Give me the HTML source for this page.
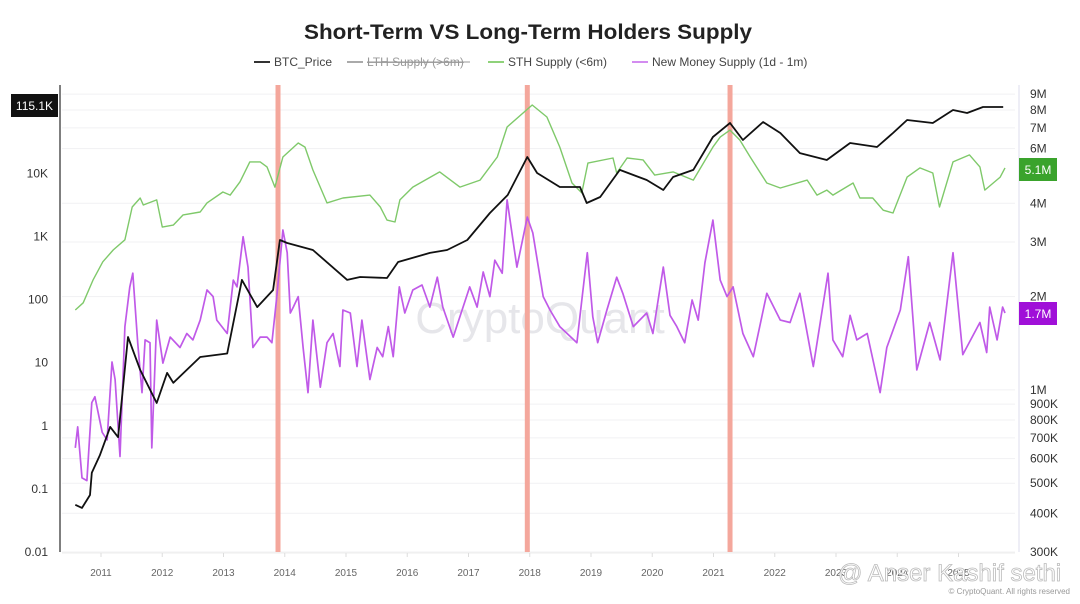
<!DOCTYPE html>
<html><head><meta charset="utf-8">
<style>
html,body{margin:0;padding:0;background:#fff;}
body{width:1080px;height:599px;overflow:hidden;font-family:"Liberation Sans",sans-serif;}
svg text{font-family:"Liberation Sans",sans-serif;}
</style></head>
<body>
<svg id="chart" width="1080" height="599" viewBox="0 0 1080 599" xmlns="http://www.w3.org/2000/svg">
  <text x="528" y="39" text-anchor="middle" font-size="21" font-weight="bold" fill="#222" textLength="448" lengthAdjust="spacingAndGlyphs">Short-Term VS Long-Term Holders Supply</text>
  <g id="legend" font-size="12" fill="#444">
    <g><line x1="254" y1="62" x2="270" y2="62" stroke="#333" stroke-width="2"/><text x="274" y="66">BTC_Price</text></g>
    <g><line x1="347" y1="62" x2="363" y2="62" stroke="#aaa" stroke-width="2"/><text x="367" y="66" fill="#999" text-decoration="line-through">LTH Supply (&gt;6m)</text><line x1="367" y1="62" x2="470" y2="62" stroke="#999" stroke-width="1"/></g>
    <g><line x1="488" y1="62" x2="504" y2="62" stroke="#8fd27a" stroke-width="2"/><text x="508" y="66">STH Supply (&lt;6m)</text></g>
    <g><line x1="632" y1="62" x2="648" y2="62" stroke="#d38cf0" stroke-width="2"/><text x="652" y="66">New Money Supply (1d - 1m)</text></g>
  </g>
  <g id="grid"></g>
  <text x="540" y="333" text-anchor="middle" font-size="44" fill="#e6e6ea">CryptoQuant</text>
  <g id="bands"></g>
  <g id="series"></g>
  <line x1="60" y1="85" x2="60" y2="552" stroke="#555" stroke-width="1.5"/>
  <line x1="1019" y1="85" x2="1019" y2="552" stroke="#dde" stroke-width="1"/>
  <line x1="62" y1="553" x2="1015" y2="553" stroke="#eee" stroke-width="1"/>
  <g id="yleft" font-size="12" fill="#333" text-anchor="end"></g>
  <g id="yright" font-size="12" fill="#333"></g>
  <g id="xaxis" font-size="10" fill="#666" text-anchor="middle"></g>
  <g><rect x="11" y="94" width="47" height="23" fill="#111"/><text x="34.5" y="110" text-anchor="middle" font-size="12" fill="#fff">115.1K</text></g>
  <g><rect x="1019" y="158" width="38" height="23" fill="#3aa32c"/><text x="1038" y="174" text-anchor="middle" font-size="12" fill="#fff">5.1M</text></g>
  <g><rect x="1019" y="302" width="38" height="23" fill="#a010d8"/><text x="1038" y="318" text-anchor="middle" font-size="12" fill="#fff">1.7M</text></g>
  <text x="838" y="581" font-size="24" fill="#fff" stroke="#bbb" stroke-width="0.8">@ Anser Kashif sethi</text>
  <text x="1070" y="594" text-anchor="end" font-size="8" fill="#999">© CryptoQuant. All rights reserved</text>
</svg>
<script>
const leftTicks = [0.01, 0.1, 1, 10, 100, 1000, 10000];
const leftTickLabels = ["0.01", "0.1", "1", "10", "100", "1K", "10K"];
const rightTicks = [0.3, 0.4, 0.5, 0.6, 0.7, 0.8, 0.9, 1, 2, 3, 4, 6, 7, 8, 9];
const rightTickLabels = ["300K", "400K", "500K", "600K", "700K", "800K", "900K", "1M", "2M", "3M", "4M", "6M", "7M", "8M", "9M"];
const xYears = [2011, 2012, 2013, 2014, 2015, 2016, 2017, 2018, 2019, 2020, 2021, 2022, 2023, 2024, 2025];
const bandDates = [2013.89, 2017.96, 2021.27];

const btcDates = [2010.58,2010.69,2010.82,2010.85,2010.98,2011.15,2011.28,2011.44,2011.64,2011.91,2012.08,2012.18,2012.62,2013.06,2013.30,2013.55,2013.81,2013.92,2014.04,2014.46,2015.02,2015.23,2015.67,2015.85,2016.37,2016.65,2016.98,2017.35,2017.64,2017.96,2018.12,2018.49,2018.82,2018.93,2019.15,2019.47,2019.91,2020.18,2020.34,2020.67,2020.99,2021.27,2021.48,2021.81,2022.09,2022.41,2022.85,2023.23,2023.67,2023.93,2024.16,2024.58,2024.91,2025.14,2025.40,2025.73];
const btcPrice = [0.056,0.05,0.08,0.18,0.34,0.96,0.66,25.5,7.7,2.3,6.9,4.8,12.3,14,205,76,142,880,790,610,205,228,220,395,550,610,880,2360,4550,18200,10140,6080,6080,3400,4230,11350,7860,5450,8770,11350,37800,63000,33800,65300,43600,21000,16300,30300,26200,43600,70200,63000,101000,90600,112700,112700];

const sthDates = [2010.58,2010.71,2010.87,2011.03,2011.20,2011.39,2011.51,2011.64,2011.69,2011.91,2012.00,2012.18,2012.34,2012.62,2012.73,2012.99,2013.11,2013.27,2013.43,2013.60,2013.71,2013.84,2013.97,2014.22,2014.33,2014.46,2014.69,2014.95,2015.39,2015.56,2015.67,2015.80,2015.88,2016.09,2016.53,2016.86,2017.19,2017.47,2017.63,2018.04,2018.28,2018.49,2018.69,2018.85,2018.95,2019.36,2019.42,2019.59,2019.85,2020.04,2020.34,2020.67,2020.99,2021.11,2021.27,2021.43,2021.60,2021.87,2022.09,2022.53,2022.69,2022.85,2022.95,2023.28,2023.39,2023.60,2023.77,2023.93,2024.16,2024.37,2024.58,2024.69,2024.91,2025.18,2025.35,2025.43,2025.68,2025.76];
const sthSupply = [1.81,1.91,2.26,2.59,2.83,3.05,3.89,4.16,3.95,4.10,3.35,3.40,3.67,3.75,4.01,4.35,4.25,4.69,5.44,5.44,5.24,4.51,5.64,6.26,6.07,5.12,4.01,4.16,4.25,3.89,3.53,3.48,4.10,4.51,5.05,4.51,4.75,5.64,7.05,8.30,7.59,6.07,4.65,4.32,5.39,5.60,5.01,5.60,5.52,4.93,5.05,4.75,6.07,6.54,6.89,6.40,5.64,4.65,4.48,4.75,4.25,4.41,4.25,4.65,4.16,4.16,3.80,3.72,4.86,5.20,5.01,3.89,5.44,5.73,5.24,4.41,4.86,5.20];

const nmDates = [2010.58,2010.62,2010.69,2010.77,2010.85,2010.90,2011.02,2011.10,2011.18,2011.23,2011.31,2011.39,2011.47,2011.52,2011.60,2011.67,2011.72,2011.80,2011.83,2011.91,2012.01,2012.13,2012.29,2012.40,2012.50,2012.62,2012.73,2012.83,2012.89,2013.06,2013.16,2013.22,2013.32,2013.40,2013.48,2013.60,2013.71,2013.79,2013.87,2013.97,2014.04,2014.09,2014.14,2014.22,2014.30,2014.38,2014.46,2014.58,2014.69,2014.79,2014.90,2014.95,2015.07,2015.18,2015.26,2015.39,2015.51,2015.60,2015.69,2015.77,2015.87,2015.96,2016.09,2016.24,2016.37,2016.49,2016.58,2016.75,2017.02,2017.14,2017.24,2017.35,2017.43,2017.55,2017.63,2017.79,2017.96,2018.05,2018.22,2018.33,2018.49,2018.77,2018.94,2019.03,2019.11,2019.26,2019.42,2019.52,2019.69,2019.91,2020.01,2020.18,2020.29,2020.40,2020.53,2020.65,2020.75,2020.86,2020.99,2021.11,2021.22,2021.32,2021.48,2021.65,2021.87,2022.09,2022.25,2022.41,2022.63,2022.87,2022.95,2023.11,2023.23,2023.34,2023.51,2023.72,2023.83,2024.05,2024.18,2024.32,2024.53,2024.70,2024.91,2025.07,2025.35,2025.46,2025.51,2025.63,2025.72,2025.76];
const nmSupply = [0.65,0.76,0.52,0.51,0.91,0.95,0.73,0.69,1.23,1.08,0.61,1.60,2.15,2.38,1.42,0.98,1.45,1.42,0.65,1.68,1.22,1.48,1.37,1.52,1.45,1.68,2.10,2.00,1.68,1.52,2.26,2.15,3.12,2.49,1.37,1.48,1.48,1.42,2.00,3.28,2.77,1.77,1.85,2.00,1.37,0.98,1.68,1.02,1.42,1.52,1.19,1.81,1.77,1.19,1.68,1.08,1.37,1.28,1.60,1.28,2.15,1.77,2.10,2.18,1.85,2.31,1.85,1.48,2.15,1.85,2.40,2.00,2.62,2.38,4.10,2.49,3.61,3.21,2.00,1.81,1.60,1.42,2.77,1.72,1.42,1.81,2.31,2.05,1.60,1.77,1.52,2.49,1.74,1.60,1.42,1.95,1.68,2.57,3.53,2.26,2.00,2.15,1.52,1.28,2.05,1.68,1.65,2.05,1.19,2.38,1.45,1.28,1.74,1.45,1.52,0.98,1.37,1.81,2.69,1.16,1.65,1.25,2.77,1.30,1.65,1.32,1.85,1.45,1.85,1.77];

const NS = "http://www.w3.org/2000/svg";
function xScale(year){ return 101 + (year - 2011) * 61.25; }
function yLeft(v){ return 552 - 63.1 * (Math.log10(v) + 2); }
function yRight(m){ return 552 - 310 * Math.log10(m / 0.3); }
function mk(tag, attrs, parent){
  const el = document.createElementNS(NS, tag);
  for (const k in attrs) el.setAttribute(k, attrs[k]);
  parent.appendChild(el);
  return el;
}
const grid = document.getElementById('grid');
rightTicks.forEach(function(t){
  const y = yRight(t);
  const ln = mk('line', {x1: 62, x2: 1015, y1: y, y2: y, stroke: '#f1f1f3', 'stroke-width': 1}, grid);
  
  
});
const yl = document.getElementById('yleft');
leftTicks.forEach(function(t, i){
  const tx = mk('text', {x: 48, y: yLeft(t) + 4}, yl);
  tx.textContent = leftTickLabels[i];
  
  
});
const yr = document.getElementById('yright');
rightTicks.forEach(function(t, i){
  const tx = mk('text', {x: 1030, y: yRight(t) + 4}, yr);
  tx.textContent = rightTickLabels[i];
  
  
});
const xa = document.getElementById('xaxis');
xYears.forEach(function(yv){
  const x = xScale(yv);
  const tk = mk('line', {x1: x, x2: x, y1: 553, y2: 557, stroke: '#ddd'}, xa);
  
  
  const tx = mk('text', {x: x, y: 576}, xa);
  tx.textContent = String(yv);
  
  
});
const bands = document.getElementById('bands');
bandDates.forEach(function(d){
  const r = mk('rect', {x: xScale(d) - 2.5, y: 85, width: 5, height: 467, fill: '#f4a79c'}, bands);
  
  
});
function line(dates, vals, yf, color, w, name){
  const pts = dates.map(function(d, i){ return xScale(d).toFixed(1) + ',' + yf(vals[i]).toFixed(1); }).join(' ');
  const p = mk('polyline', {points: pts, fill: 'none', stroke: color, 'stroke-width': w, 'stroke-linejoin': 'round'}, document.getElementById('series'));
  
  
}
line(sthDates, sthSupply, yRight, '#7fc96a', 1.4, 'sth-supply-line');
line(nmDates, nmSupply, yRight, '#c05ae8', 1.7, 'new-money-supply-line');
line(btcDates, btcPrice, yLeft, '#111', 1.8, 'btc-price-line');
</script>
</body></html>
